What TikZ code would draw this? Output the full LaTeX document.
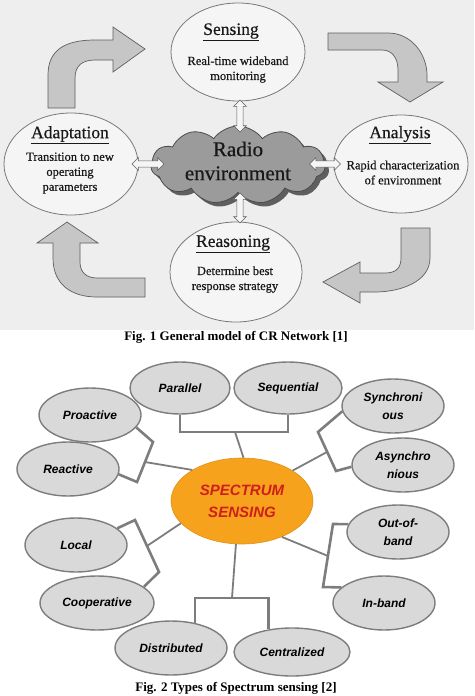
\documentclass[tikz,border=0pt]{standalone}
\usepackage{fontspec}
\setmainfont{Liberation Serif}
\newfontfamily\arialf{Liberation Sans}
\newfontfamily\fonef[FakeBold=0.5]{Liberation Serif}
\usetikzlibrary{shapes.geometric,shapes.symbols,shapes.arrows,shadows,calc}
\definecolor{bgone}{RGB}{238,238,238}
\definecolor{ellone}{RGB}{245,245,245}
\definecolor{lineone}{RGB}{120,120,120}
\definecolor{bigarr}{RGB}{198,198,198}
\definecolor{bigarrline}{RGB}{95,95,95}
\definecolor{cloudfill}{RGB}{155,155,155}
\definecolor{cloudshadow}{RGB}{95,95,95}
\definecolor{elltwo}{RGB}{217,217,217}
\definecolor{linetwo}{RGB}{125,125,125}
\definecolor{specfill}{RGB}{246,162,28}
\definecolor{specred}{RGB}{208,30,28}
\begin{document}
\begin{tikzpicture}[x=1pt,y=-1pt,
  ellA/.style={ellipse, draw=lineone, line width=0.8pt, fill=ellone, inner sep=0pt},
  ttl/.style={font=\fonef\fontsize{17.5}{20}\selectfont, text=black!90},
  bdy/.style={font=\fonef\fontsize{12.5}{15}\selectfont, align=center, text=black!90},
  bigarrow/.style={fill=bigarr, draw=bigarrline, line width=0.7pt, line join=miter},
  dbl/.style={double arrow, draw=bigarrline, fill=ellone, line width=0.6pt, inner sep=2.8pt, double arrow head extend=3.2pt},
  ellB/.style={ellipse, draw=linetwo, line width=1.4pt, fill=elltwo, inner sep=0pt, font=\arialf\bfseries\itshape\fontsize{12}{17.5}\selectfont, align=center, text=black},
  brk/.style={draw=linetwo, line width=2.6pt, line join=miter},
  cl/.style={draw=linetwo, line width=1.8pt},
  captxt/.style={font=\bfseries\fontsize{13}{15}\selectfont}
]
\useasboundingbox (0,0) rectangle (474,696);
\fill[bgone] (0,0) rectangle (474,330);

% ---------- Fig. 1 ----------
\path[bigarrow] (48,108) -- (48,75) .. controls (48,50) and (65,40) .. (95,40) -- (113,40) -- (113,27) -- (145,49) -- (113,72) -- (113,60) -- (95,60) .. controls (82,60) and (75,66) .. (75,78) -- (75,108) -- cycle;
\path[bigarrow] (328,33) -- (388,33) .. controls (412,33) and (427,55) .. (427,75) -- (427,82) -- (443,82) -- (410,102) -- (378,82) -- (398,82) -- (398,70) .. controls (398,58) and (392,50) .. (382,50) -- (328,50) -- cycle;
\path[bigarrow] (401,228) -- (430,228) -- (430,258) .. controls (430,282) and (400,292) .. (375,292) -- (360,292) -- (360,303) -- (323,282) -- (360,262) -- (360,273) -- (385,273) .. controls (396,273) and (401,268) .. (401,258) -- cycle;
\path[bigarrow] (145,278) -- (97,278) .. controls (86,278) and (80,272) .. (80,262) -- (80,243) -- (98,243) -- (67,222) -- (37,243) -- (53,243) -- (53,258) .. controls (53,285) and (72,297) .. (97,297) -- (145,297) -- cycle;

\node[ellA, minimum width=134pt, minimum height=98pt] (sens) at (238,52) {};
\node[ellA, minimum width=134pt, minimum height=102pt] (adap) at (71,164) {};
\node[ellA, minimum width=134pt, minimum height=98pt] (anal) at (401,164) {};
\node[ellA, minimum width=132pt, minimum height=100pt] (reas) at (236,272) {};

\node[ttl] (sensT) at (231,32) {\underline{Sensing}};
\node[bdy] (sensB) at (238,69.5) {Real-time wideband\\monitoring};
\node[ttl] (adapT) at (70,135) {\underline{Adaptation}};
\node[bdy] (adapB) at (70,173) {Transition to new\\operating\\parameters};
\node[ttl] (analT) at (400,135) {\underline{Analysis}};
\node[bdy] (analB) at (403,172.5) {Rapid characterization\\of environment};
\node[ttl] (reasT) at (233,244) {\underline{Reasoning}};
\node[bdy] (reasB) at (235,279.5) {Determine best\\response strategy};

\node[cloud, cloud puffs=11, cloud puff arc=110, cloud ignores aspect, draw=black!70, fill=cloudfill, line width=0.8pt, minimum width=174pt, minimum height=78pt, inner sep=0pt, drop shadow={shadow xshift=4pt, shadow yshift=-4pt, fill=cloudshadow, opacity=1}] (cloud) at (238,165) {};
\node[font=\fonef\fontsize{21}{24}\selectfont, align=center, text=black!90] (cloudT) at (238,161) {Radio\\environment};

\node[dbl, shape border rotate=90, minimum height=32pt] (da1) at (240,116) {};
\node[dbl, shape border rotate=90, minimum height=30pt] (da4) at (240,208) {};
\node[dbl, minimum height=32pt] (da2) at (148,164) {};
\node[dbl, minimum height=31pt] (da3) at (325,164) {};

\node[captxt] (cap1) at (236,337) {Fig. 1 General model of CR Network [1]};

% ---------- Fig. 2 ----------
\node[ellB, minimum width=100pt, minimum height=52pt] (par) at (180,388) {Parallel};
\node[ellB, minimum width=108pt, minimum height=52pt] (seq) at (288,388) {Sequential};
\node[ellB, minimum width=102pt, minimum height=54pt] (pro) at (90,415) {Proactive};
\node[ellB, minimum width=102pt, minimum height=54pt] (rea) at (68,469) {Reactive};
\node[ellB, minimum width=102pt, minimum height=54pt] (syn) at (393,406) {Synchroni\\ous};
\node[ellB, minimum width=102pt, minimum height=54pt] (asy) at (403,465) {Asynchro\\nious};
\node[ellB, minimum width=102pt, minimum height=54pt] (loc) at (76,545) {Local};
\node[ellB, minimum width=114pt, minimum height=54pt] (coop) at (97,603) {Cooperative};
\node[ellB, minimum width=102pt, minimum height=54pt] (oob) at (398,532) {Out-of-\\band};
\node[ellB, minimum width=102pt, minimum height=54pt] (inb) at (384,603) {In-band};
\node[ellB, minimum width=112pt, minimum height=54pt] (dis) at (171,648) {Distributed};
\node[ellB, minimum width=116pt, minimum height=48pt] (cen) at (292,652) {Centralized};
\node[ellipse, fill=specfill, draw=specfill!90!black, line width=0.6pt, inner sep=0pt, minimum width=142pt, minimum height=86pt, align=center, text=specred, font=\arialf\bfseries\itshape\fontsize{15}{22}\selectfont] (spec) at (242,501) {SPECTRUM\\SENSING};

\coordinate (tb) at (235,432);
\draw[brk] (par.south) |- (tb) -| (seq.south);
\draw[cl] (tb) -- (spec.88);

\coordinate (lu1) at (153,442); \coordinate (lu2) at (137,482); \coordinate (lum) at (145,462);
\draw[brk] (pro.-15) -- (lu1) -- (lu2) -- (rea.-6);
\draw[cl] (lum) -- (spec.148);

\coordinate (ll1) at (135,520); \coordinate (ll2) at (159,572); \coordinate (llm) at (147,546);
\draw[brk] (loc.22) -- (ll1) -- (ll2) -- (coop.19);
\draw[cl] (llm) -- (spec.200);

\coordinate (bb) at (232,598);
\draw[brk] (dis.46) |- (bb) -| (cen.136);
\draw[cl] (bb) -- (spec.262);

\coordinate (ru1) at (318,432); \coordinate (ru2) at (336,471); \coordinate (rum) at (327,452);
\draw[brk] (syn.186) -- (ru1) -- (ru2) -- (asy.182);
\draw[cl] (rum) -- (spec.31);

\coordinate (rl1) at (333,524); \coordinate (rl2) at (323,587); \coordinate (rlm) at (328,556);
\draw[brk] (oob.171) -- (rl1) -- (rl2) -- (inb.160);
\draw[cl] (rlm) -- (spec.-42);

\node[captxt] (cap2) at (236,688) {Fig. 2 Types of Spectrum sensing [2]};
\end{tikzpicture}
\end{document}
